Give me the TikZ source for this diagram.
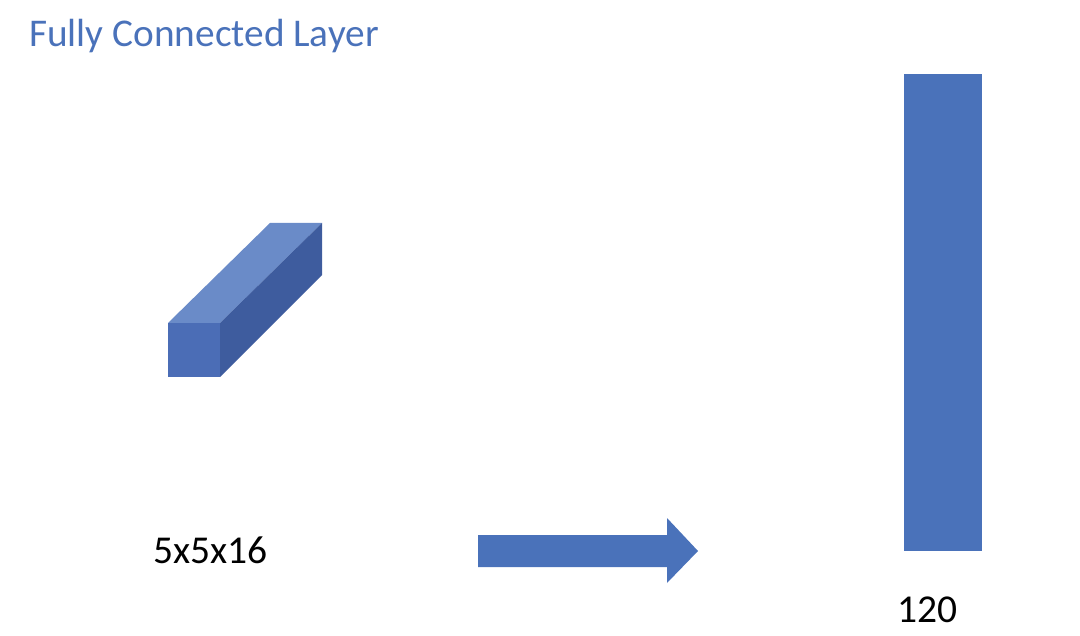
\documentclass[tikz,border=0pt]{standalone}
\usepackage{fontspec}
\setmainfont{Carlito}
\definecolor{officeblue}{HTML}{4A72BA}
\definecolor{cubefront}{HTML}{4B6DB6}
\definecolor{cubetop}{HTML}{6A8BC8}
\definecolor{cubeside}{HTML}{3E5C9E}
\begin{document}
\begin{tikzpicture}[x=1pt,y=-1pt,
  bluebox/.style={fill=officeblue,draw=none},
  lbl/.style={anchor=base west,inner sep=0pt,font=\fontsize{39.5}{42}\selectfont}]
\useasboundingbox (0,0) rectangle (1080,636);
% title
\node[lbl,text=officeblue,font=\fontsize{39.3}{42}\selectfont] (title) at (29,47) {Fully Connected Layer};
% cuboid
\fill[cubetop] (168,323) -- (270,223) -- (322,223) -- (220,323) -- cycle;
\fill[cubeside] (220,323) -- (322,223) -- (322,275) -- (220,377) -- cycle;
\fill[cubefront] (168,323) rectangle (220,377);
\node[lbl] (inlbl) at (153,563) {5x5x16};
% block arrow
\fill[officeblue] (478,535) -- (667,535) -- (667,518) -- (698,551) -- (667,583) -- (667,567) -- (478,567) -- cycle;
% tall vector
\node[bluebox,minimum width=78pt,minimum height=477pt,inner sep=0pt,anchor=north west] (vec) at (904,74) {};
\node[lbl] (outlbl) at (897,622) {120};
\end{tikzpicture}
\end{document}
